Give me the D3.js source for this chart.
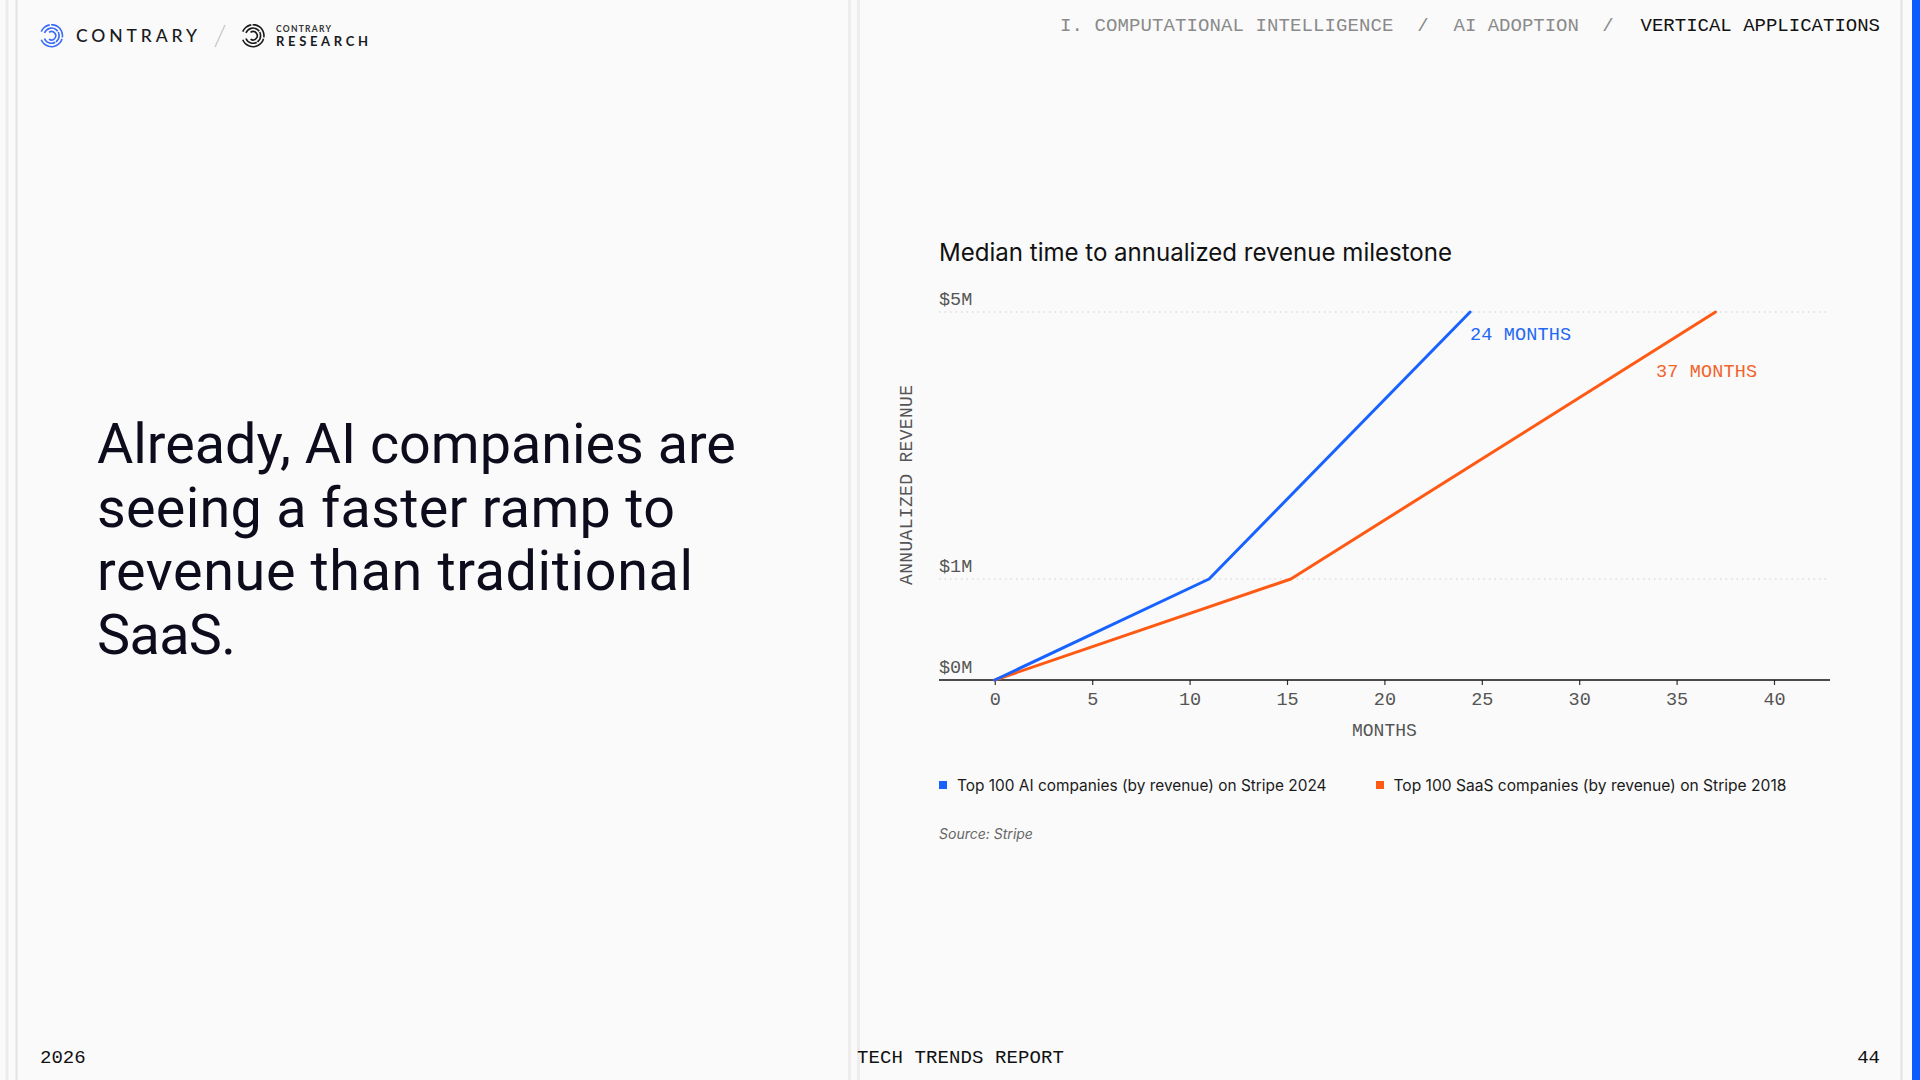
<!DOCTYPE html>
<html>
<head>
<meta charset="utf-8">
<script src="https://cdn.jsdelivr.net/npm/d3@7"></script>
<style>
  html, body { margin: 0; padding: 0; background: #fafafa; }
  svg { display: block; }
</style>
</head>
<body>
<svg id="chart" width="1920" height="1080"></svg>
<script>
// ---------- DATA ----------
const monthTicks = [0, 5, 10, 15, 20, 25, 30, 35, 40];
const revenueTicks = [0, 1, 5];
const revenueTickLabels = ["$0M", "$1M", "$5M"];
const aiMonths = [0, 11, 24.4];
const aiRevenue = [0, 1, 5];
const saasMonths = [0, 15.2, 37];
const saasRevenue = [0, 1, 5];
const seriesNames = ["Top 100 AI companies (by revenue) on Stripe 2024", "Top 100 SaaS companies (by revenue) on Stripe 2018"];
const endLabels = ["24 MONTHS", "37 MONTHS"];
const headlineLines = ["Already, AI companies are", "seeing a faster ramp to", "revenue than traditional", "SaaS."];
const breadcrumb = ["I. COMPUTATIONAL INTELLIGENCE", "AI ADOPTION", "VERTICAL APPLICATIONS"];

// ---------- SETUP ----------
const svg = d3.select("#chart");
const BLUE = "#1863ff", ORANGE = "#ff5a14";
const MONO = "'Liberation Mono', 'DejaVu Sans Mono', monospace";
const SANS = "Inter, 'Noto Sans', sans-serif";

function fitSize(sel, target) {
  const w = sel.node().getComputedTextLength();
  const fs = parseFloat(sel.attr("font-size"));
  sel.attr("font-size", (fs * target / w).toFixed(2));
  return sel;
}

svg.append("rect").attr("width", 1920).attr("height", 1080).attr("fill", "#fafafa");

// frame lines
const frame = [[7, 3, "#ececec"], [16.5, 2, "#e2e2e2"], [849.5, 3, "#ededed"], [858.5, 3, "#ededed"], [1901.5, 2, "#e2e2e2"]];
frame.forEach(([x, w, c]) => svg.append("rect").attr("x", x - w / 2).attr("y", 0).attr("width", w).attr("height", 1080).attr("fill", c));
svg.append("rect").attr("x", 1912).attr("y", 0).attr("width", 8).attr("height", 1080).attr("fill", "#0a5cff");

// ---------- LOGO ----------
function icon(cx, cy, color) {
  const g = svg.append("g").attr("transform", `translate(${cx},${cy})`);
  const radii = [11, 7.6, 4.2];
  radii.forEach((r, i) => {
    const arc = d3.arc().innerRadius(r - 0.8).outerRadius(r + 0.8)
      .startAngle(-Math.PI * (i === 2 ? 0.2 : 0.38)).endAngle(Math.PI * (i === 2 ? 1.2 : 1.38));
    g.append("path").attr("d", arc()).attr("fill", color);
  });
  [[-0.05, 11], [0.55, 11], [0.3, 7.6], [0.8, 7.6]].forEach(([a, r]) => {
    const arc = d3.arc().innerRadius(r - 1.2).outerRadius(r + 1.2).startAngle(Math.PI * a).endAngle(Math.PI * a + 0.12);
    g.append("path").attr("d", arc()).attr("fill", "#fafafa");
  });
}
icon(51.5, 35.7, "#3b6cf6");
icon(253, 35.7, "#1a1a1a");
svg.append("text").attr("x", 76).attr("y", 42).attr("font-family", "Lato, 'Open Sans', sans-serif")
  .attr("font-size", 17.5).attr("font-weight", 500).attr("fill", "#1a1a22")
  .attr("textLength", 121).attr("lengthAdjust", "spacing").text("CONTRARY");
svg.append("line").attr("x1", 225).attr("y1", 25).attr("x2", 215).attr("y2", 47).attr("stroke", "#cfcfcf").attr("stroke-width", 1.6);
svg.append("text").attr("x", 276).attr("y", 32).attr("font-family", "Lato, sans-serif")
  .attr("font-size", 8.5).attr("font-weight", 700).attr("fill", "#333")
  .attr("textLength", 55).attr("lengthAdjust", "spacing").text("CONTRARY");
svg.append("text").attr("x", 276).attr("y", 46).attr("font-family", "Lato, sans-serif")
  .attr("font-size", 13).attr("font-weight", 700).attr("fill", "#1a1a22")
  .attr("textLength", 92).attr("lengthAdjust", "spacing").text("RESEARCH");

// ---------- BREADCRUMB ----------
const bc = svg.append("g").attr("font-family", MONO).attr("font-size", 19);
bc.append("text").attr("x", 1060).attr("y", 31).attr("fill", "#8a8a8a")
  .attr("textLength", 333.5).attr("lengthAdjust", "spacing").text(breadcrumb[0]);
bc.append("text").attr("x", 1423).attr("y", 31).attr("text-anchor", "middle").attr("fill", "#8a8a8a").text("/");
bc.append("text").attr("x", 1453.5).attr("y", 31).attr("fill", "#8a8a8a").text(breadcrumb[1]);
bc.append("text").attr("x", 1608).attr("y", 31).attr("text-anchor", "middle").attr("fill", "#8a8a8a").text("/");
bc.append("text").attr("x", 1880).attr("y", 31).attr("text-anchor", "end").attr("fill", "#111").text(breadcrumb[2]);

// ---------- HEADLINE ----------
const hl = svg.append("g");
const hlBase = [463, 527, 590, 654];
const hlWidths = [639, 578, 596, 139];
const first = hl.append("text").attr("x", 97).attr("y", hlBase[0]).attr("font-family", "Roboto, sans-serif")
  .attr("font-size", 56).attr("fill", "#0c0c1c").text(headlineLines[0]);
fitSize(first, hlWidths[0]);
const hlSize = +first.attr("font-size");
headlineLines.slice(1).forEach((t, i) => {
  hl.append("text").attr("x", 97).attr("y", hlBase[i + 1]).attr("font-family", "Roboto, sans-serif")
    .attr("font-size", hlSize).attr("fill", "#0c0c1c")
    .attr("textLength", hlWidths[i + 1]).attr("lengthAdjust", "spacing").text(t);
});

// ---------- FOOTER ----------
const ft = svg.append("g").attr("font-family", MONO).attr("font-size", 19).attr("fill", "#111");
ft.append("text").attr("x", 40).attr("y", 1063).text("2026");
ft.append("text").attr("x", 857).attr("y", 1063).attr("textLength", 207).attr("lengthAdjust", "spacing").text("TECH TRENDS REPORT");
ft.append("text").attr("x", 1880).attr("y", 1063).attr("text-anchor", "end").text("44");

// ---------- CHART ----------
const x = d3.scaleLinear().domain([0, 40]).range([994.8, 1774]);
const y = d3.scaleLinear().domain(revenueTicks).range([680, 579, 312]);
const plotLeft = 939, plotRight = 1830;

const title = svg.append("text").attr("x", 939).attr("y", 261).attr("font-family", SANS)
  .attr("font-size", 23).attr("fill", "#111").text("Median time to annualized revenue milestone");
fitSize(title, 513);

svg.append("g").selectAll("line").data(revenueTicks.filter(d => d > 0)).join("line")
  .attr("x1", plotLeft).attr("x2", plotRight).attr("y1", d => y(d)).attr("y2", d => y(d))
  .attr("stroke", "#cdcdcd").attr("stroke-width", 1.2).attr("stroke-dasharray", "1.5,4");

svg.append("g").selectAll("text").data(revenueTicks).join("text")
  .attr("x", plotLeft).attr("y", d => y(d) - 7)
  .attr("font-family", MONO).attr("font-size", 18.5).attr("fill", "#555")
  .text((d, i) => revenueTickLabels[i]);

svg.append("text").attr("transform", "translate(912,485) rotate(-90)").attr("text-anchor", "middle")
  .attr("font-family", MONO).attr("font-size", 18).attr("fill", "#555")
  .attr("textLength", 200).attr("lengthAdjust", "spacing").text("ANNUALIZED REVENUE");

const xAxis = svg.append("g").attr("transform", `translate(0,${y(0)})`)
  .call(d3.axisBottom(x).tickValues(monthTicks).tickSize(5).tickSizeOuter(0));
xAxis.select(".domain").remove();
xAxis.selectAll(".tick line").attr("stroke", "#333").attr("stroke-width", 1.2);
xAxis.selectAll(".tick text").attr("font-family", MONO).attr("font-size", 18.5).attr("fill", "#555")
  .attr("y", 25).attr("dy", 0);
svg.append("line").attr("x1", plotLeft).attr("x2", plotRight).attr("y1", y(0)).attr("y2", y(0))
  .attr("stroke", "#111").attr("stroke-width", 1.6);

svg.append("text").attr("x", x(20)).attr("y", 736).attr("text-anchor", "middle")
  .attr("font-family", MONO).attr("font-size", 18).attr("fill", "#555").text("MONTHS");

const line = d3.line().x(d => x(d[0])).y(d => y(d[1]));
const aiData = aiMonths.map((m, i) => [m, aiRevenue[i]]);
const saasData = saasMonths.map((m, i) => [m, saasRevenue[i]]);
svg.append("path").datum(saasData).attr("d", line).attr("fill", "none").attr("stroke", ORANGE)
  .attr("stroke-width", 3).attr("stroke-linejoin", "round").attr("stroke-linecap", "round");
svg.append("path").datum(aiData).attr("d", line).attr("fill", "none").attr("stroke", BLUE)
  .attr("stroke-width", 3).attr("stroke-linejoin", "round").attr("stroke-linecap", "round");

svg.append("text").attr("x", x(aiMonths[2])).attr("y", 340).attr("font-family", MONO)
  .attr("font-size", 18.5).attr("fill", "#2268f5").attr("textLength", 101).attr("lengthAdjust", "spacing").text(endLabels[0]);
svg.append("text").attr("x", 1656).attr("y", 377).attr("font-family", MONO)
  .attr("font-size", 18.5).attr("fill", "#f2632a").attr("textLength", 101).attr("lengthAdjust", "spacing").text(endLabels[1]);

const lg = svg.append("g");
lg.append("rect").attr("x", 939).attr("y", 781).attr("width", 8).attr("height", 8).attr("fill", BLUE);
fitSize(lg.append("text").attr("x", 957).attr("y", 791).attr("font-family", SANS).attr("font-size", 17)
  .attr("fill", "#1a1a1a").text(seriesNames[0]), 370);
lg.append("rect").attr("x", 1376).attr("y", 781).attr("width", 8).attr("height", 8).attr("fill", ORANGE);
fitSize(lg.append("text").attr("x", 1393.5).attr("y", 791).attr("font-family", SANS).attr("font-size", 17)
  .attr("fill", "#1a1a1a").text(seriesNames[1]), 393);

fitSize(svg.append("text").attr("x", 939).attr("y", 839).attr("font-family", SANS).attr("font-style", "italic")
  .attr("font-size", 15).attr("fill", "#666").text("Source: Stripe"), 94);
</script>
</body>
</html>
